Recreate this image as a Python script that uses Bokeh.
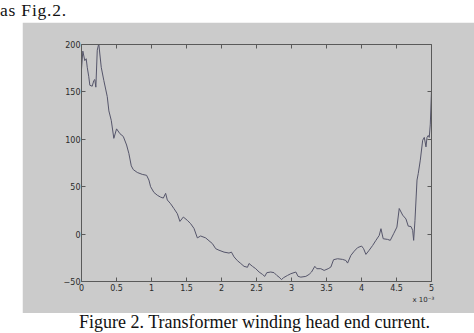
from bokeh.plotting import figure
from bokeh.models import Range1d, LinearAxis, FixedTicker, Title, Div, Spacer
from bokeh.layouts import column, row
from bokeh.embed import file_html
from bokeh.resources import INLINE

# time in units of 1e-3 s
time_ms = [0.000, 0.019, 0.047, 0.067, 0.082, 0.104, 0.119, 0.153, 0.176, 0.190,
           0.205, 0.225, 0.247, 0.262, 0.282, 0.319, 0.368, 0.391, 0.425, 0.462,
           0.501, 0.548, 0.597, 0.644, 0.677, 0.711, 0.740, 0.797, 0.868, 0.930,
           0.963, 0.987, 1.034, 1.083, 1.130, 1.169, 1.202, 1.226, 1.273, 1.320,
           1.369, 1.406, 1.455, 1.512, 1.559, 1.607, 1.655, 1.702, 1.774, 1.821,
           1.870, 1.917, 1.964, 2.036, 2.107, 2.142, 2.179, 2.227, 2.275, 2.322,
           2.371, 2.393, 2.442, 2.489, 2.537, 2.585, 2.618, 2.647, 2.704, 2.751,
           2.790, 2.823, 2.857, 2.886, 2.943, 2.990, 3.062, 3.094, 3.133, 3.205,
           3.252, 3.286, 3.333, 3.362, 3.419, 3.466, 3.524, 3.562, 3.601, 3.658,
           3.730, 3.777, 3.801, 3.848, 3.896, 3.944, 4.001, 4.030, 4.063, 4.110,
           4.159, 4.206, 4.253, 4.278, 4.310, 4.373, 4.411, 4.459, 4.506, 4.539,
           4.588, 4.635, 4.668, 4.707, 4.731, 4.745, 4.764, 4.793, 4.811, 4.840,
           4.874, 4.897, 4.921, 4.936, 4.954, 4.968, 4.983, 5.000]
current = [174, 193, 183, 185, 176, 166, 157, 156, 162, 163,
           155, 194, 201, 190, 176, 162, 145, 130, 120, 101,
           111, 106, 103, 94, 85, 72, 68, 65, 63, 62,
           57, 50, 44, 41, 39, 38, 43, 36, 32, 27,
           21.5, 13.4, 18, 14.5, 11, 6, -4, -2, -4, -7,
           -10, -15.4, -17, -19, -20, -19, -24, -28, -31, -34,
           -35, -31, -34, -36.5, -40, -42.5, -44.6, -40.7, -40, -40.7,
           -43.6, -45.4, -48, -46, -43.6, -41.8, -40, -44.6, -45.4, -44.6,
           -42.5, -40, -34, -36.5, -36.5, -38.3, -36.5, -34.8, -27, -26,
           -26.7, -27.8, -30.6, -22.5, -18, -14.3, -12.6, -15.4, -21.4, -17,
           -12, -6.6, -1.4, 5.7, -4.9, -5.6, -6.6, 0.4, 7.4, 27,
           20, 16, 8.4, 8, 4, -6.6, 14.5, 57, 64, 78,
           99, 102, 92, 102, 104, 102, 116, 152]

x_ticks = [0, 0.5, 1, 1.5, 2, 2.5, 3, 3.5, 4, 4.5, 5]
y_ticks = [-50, 0, 50, 100, 150, 200]
top_text = "as Fig.2."
caption = "Figure 2. Transformer winding head end current."
exponent_text = "x 10\u207b\u00b3"

GREY = "#cbcbcb"
AXC = "#5a5a5a"

p = figure(width=452, height=291, output_backend="svg", toolbar_location=None,
           x_range=Range1d(0, 5), y_range=Range1d(-50, 200),
           min_border_left=59, min_border_right=43, min_border_top=22, min_border_bottom=32,
           background_fill_color=GREY, border_fill_color=GREY, margin=0)
p.outline_line_color = None
p.grid.visible = False


def style(ax, labels=True):
    ax.axis_line_color = AXC
    ax.axis_line_width = 1
    ax.major_tick_line_color = AXC
    ax.major_tick_in = 4
    ax.major_tick_out = 0
    ax.minor_tick_line_color = None
    ax.major_label_text_font = "DejaVu Sans"
    ax.major_label_text_font_size = "8px"
    ax.major_label_text_color = "#2a2a2a"
    ax.major_label_standoff = 2
    if not labels:
        ax.major_label_text_font_size = "0px"
        ax.major_label_text_alpha = 0


p.xaxis.ticker = FixedTicker(ticks=x_ticks)
p.yaxis.ticker = FixedTicker(ticks=y_ticks)
style(p.xaxis[0])
style(p.yaxis[0])
p.yaxis[0].major_label_standoff = 1

top_ax = LinearAxis(ticker=FixedTicker(ticks=x_ticks))
right_ax = LinearAxis(ticker=FixedTicker(ticks=y_ticks))
style(top_ax, labels=False)
style(right_ax, labels=False)
p.add_layout(top_ax, "above")
p.add_layout(right_ax, "right")

p.add_layout(Title(text=exponent_text, align="left", offset=331, standoff=0,
                   text_font="DejaVu Sans", text_font_size="7px",
                   text_font_style="normal", text_color="#2a2a2a"), "below")

p.line(time_ms, current, line_color="#55556a", line_width=1)

serif = ("font-family:'Liberation Serif','Times New Roman',serif;"
         "white-space:nowrap;color:#111111;margin:0;padding:0;")
top_div = Div(text=f'<div style="{serif}font-size:17.5px;line-height:20px;letter-spacing:0.8px;">{top_text}</div>',
              width=474, height=22, margin=0)
cap_div = Div(text=f'<div style="{serif}font-size:18px;line-height:18px;">{caption}</div>',
              width=395, height=20, margin=0)

layout = column(
    top_div,
    row(Spacer(width=22, height=291, margin=0), p, spacing=0, margin=0),
    row(Spacer(width=79, height=20, margin=0), cap_div, spacing=0, margin=0),
    spacing=0, margin=0,
)

open("out.html", "w").write(file_html(layout, INLINE))
